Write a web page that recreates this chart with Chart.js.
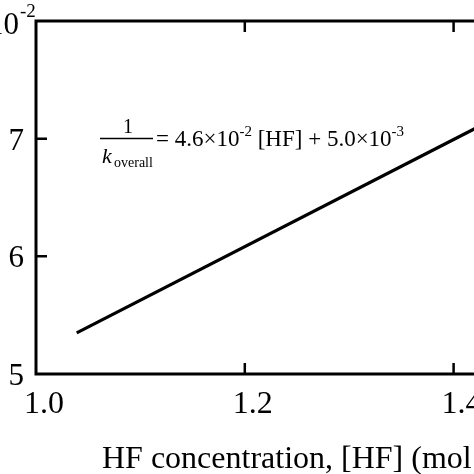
<!DOCTYPE html>
<html>
<head>
<meta charset="utf-8">
<script src="https://cdn.jsdelivr.net/npm/chart.js@4.4.0/dist/chart.umd.min.js"></script>
<style>
  html, body { margin: 0; padding: 0; background: #fff; overflow: hidden; }
  #wrap { width: 580px; height: 474px; }
</style>
</head>
<body>
<div id="wrap"><canvas id="grafico" width="580" height="474"></canvas></div>
<script>
// dados (1/k_overall em unidades de 10^-2)
const hfConc = [1.039, 1.45];
const invK = [5.35, 7.22];
const xTicks = [1.0, 1.2, 1.4];
const yTicks = [5, 6, 7];
const xTitulo = 'HF concentration, [HF] (mol dm\u207B\u00B3)';

const serif = '"Liberation Serif", "DejaVu Serif", serif';

// moldura, ticks para dentro e textos extras
const molduraPlugin = {
  id: 'moldura',
  afterDraw(chart) {
    const ctx = chart.ctx;
    const a = chart.chartArea;
    const sx = chart.scales.x, sy = chart.scales.y;
    ctx.save();
    ctx.strokeStyle = '#000';
    ctx.lineWidth = 3;
    ctx.lineCap = 'square';
    ctx.strokeRect(a.left, a.top, a.right - a.left, a.bottom - a.top);

    const tl = 11;
    ctx.lineWidth = 2.5;
    ctx.lineCap = 'butt';
    xTicks.forEach(v => {
      const px = sx.getPixelForValue(v);
      if (px <= a.left + 2) return;
      ctx.beginPath();
      ctx.moveTo(px, a.bottom); ctx.lineTo(px, a.bottom - tl);
      ctx.moveTo(px, a.top); ctx.lineTo(px, a.top + tl);
      ctx.stroke();
    });
    yTicks.forEach(v => {
      const py = sy.getPixelForValue(v);
      if (py >= a.bottom - 2) return;
      ctx.beginPath();
      ctx.moveTo(a.left, py); ctx.lineTo(a.left + tl, py);
      ctx.moveTo(a.right, py); ctx.lineTo(a.right - tl, py);
      ctx.stroke();
    });

    // multiplicador do eixo y (cortado na borda)
    ctx.fillStyle = '#000';
    ctx.textBaseline = 'alphabetic';
    ctx.textAlign = 'right';
    ctx.font = '31px ' + serif;
    ctx.fillText('\u00D710', 19, 34);
    ctx.textAlign = 'left';
    ctx.font = '19px ' + serif;
    ctx.fillText('-2', 20, 17);

    // titulo do eixo x
    ctx.font = '32px ' + serif;
    ctx.fillText(xTitulo, 102, 468);

    // equacao
    ctx.textAlign = 'center';
    ctx.font = '20px ' + serif;
    ctx.fillText('1', 128, 133);
    ctx.lineWidth = 1.3;
    ctx.beginPath();
    ctx.moveTo(100, 138.5); ctx.lineTo(153, 138.5);
    ctx.stroke();
    ctx.textAlign = 'left';
    ctx.font = 'italic 22px ' + serif;
    ctx.fillText('k', 102, 163);
    ctx.font = '14px ' + serif;
    ctx.fillText('overall', 114, 167);

    let x = 156;
    const base = 146;
    const parte = (txt, sup) => {
      ctx.font = (sup ? '15px ' : '23px ') + serif;
      ctx.fillText(txt, x, sup ? base - 10 : base);
      x += ctx.measureText(txt).width;
    };
    parte('= 4.6\u00D710');
    parte('-2', true);
    parte(' [HF] + 5.0\u00D710');
    parte('-3', true);
    ctx.restore();
  }
};

new Chart(document.getElementById('grafico'), {
  type: 'scatter',
  data: {
    datasets: [{
      data: hfConc.map((v, i) => ({ x: v, y: invK[i] })),
      showLine: true,
      borderColor: '#000',
      borderWidth: 3.2,
      pointRadius: 0,
      fill: false
    }]
  },
  options: {
    responsive: false,
    animation: false,
    layout: { padding: { top: 21, right: 22, left: 0, bottom: 0 } },
    plugins: { legend: { display: false }, tooltip: { enabled: false } },
    scales: {
      x: {
        type: 'linear',
        min: 1.0,
        max: 1.5,
        grid: { display: false, drawTicks: false },
        border: { display: false },
        afterFit(s) { s.height = 100; s.paddingLeft = 0; s.paddingRight = 0; },
        afterBuildTicks(s) { s.ticks = xTicks.map(v => ({ value: v })); },
        ticks: {
          color: '#000',
          padding: 11,
          labelOffset: 8,
          font: { family: serif, size: 32 },
          callback: v => Number(v).toFixed(1)
        }
      },
      y: {
        type: 'linear',
        min: 5,
        max: 8,
        grid: { display: false, drawTicks: false },
        border: { display: false },
        afterFit(s) { s.width = 36; s.paddingTop = 0; s.paddingBottom = 0; },
        afterBuildTicks(s) { s.ticks = yTicks.map(v => ({ value: v })); },
        ticks: {
          color: '#000',
          padding: 12,
          labelOffset: 3,
          font: { family: serif, size: 31 },
          callback: v => String(v)
        }
      }
    }
  },
  plugins: [molduraPlugin]
});
</script>
</body>
</html>
